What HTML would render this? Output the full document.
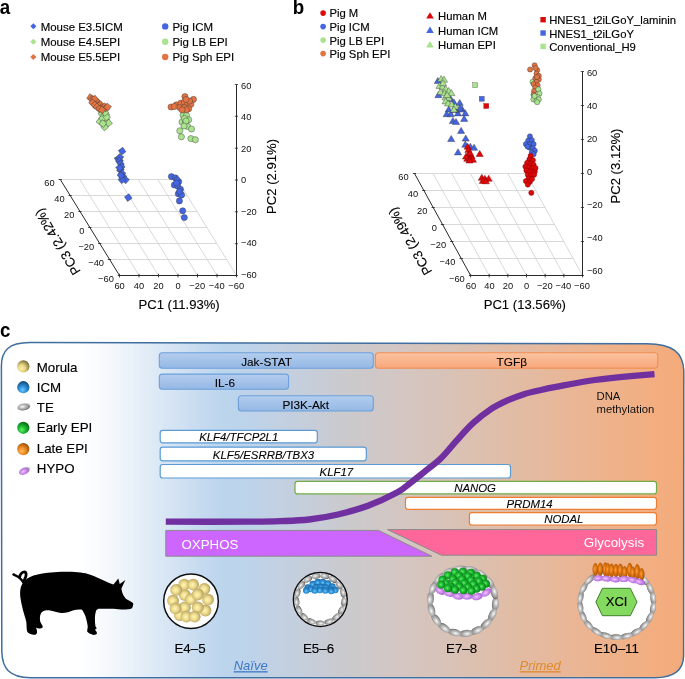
<!DOCTYPE html>
<html lang="en"><head><meta charset="utf-8"><title>Figure</title>
<style>
html,body{margin:0;padding:0;background:#fff;}
body{width:685px;height:679px;overflow:hidden;}
svg{display:block;font-family:"Liberation Sans", Arial, Helvetica, sans-serif;}
.tk{font-size:9.3px;fill:#111;}
.lg{font-size:11.45px;fill:#000;stroke:#000;stroke-width:0.15px;}
.lgb{font-size:11.3px;fill:#000;stroke:#000;stroke-width:0.15px;}
.ax{font-size:13.1px;fill:#000;stroke:#000;stroke-width:0.12px;}
.pl{font-size:19.5px;font-weight:bold;fill:#000;}
.cl{font-size:13.3px;fill:#000;stroke:#000;stroke-width:0.15px;}
.bx{font-size:11.8px;fill:#000;stroke:#000;stroke-width:0.1px;}
.dn{font-size:11.3px;fill:#111;}
.gi{font-size:11.4px;fill:#000;font-style:italic;stroke:#000;stroke-width:0.1px;}
</style></head><body>
<svg width="685" height="679" viewBox="0 0 685 679">
<defs>
<linearGradient id="bg" gradientUnits="userSpaceOnUse" x1="1.8" y1="0" x2="683.2" y2="0">
<stop offset="0" stop-color="#ffffff"/>
<stop offset="0.115" stop-color="#ffffff"/>
<stop offset="0.16" stop-color="#f4f8fc"/>
<stop offset="0.205" stop-color="#e4eef8"/>
<stop offset="0.25" stop-color="#d5e4f3"/>
<stop offset="0.3" stop-color="#c3d9ef"/>
<stop offset="0.325" stop-color="#bbd5ed"/>
<stop offset="0.36" stop-color="#bdd3ea"/>
<stop offset="0.4" stop-color="#c2d1e3"/>
<stop offset="0.44" stop-color="#c5cedc"/>
<stop offset="0.5" stop-color="#cacace"/>
<stop offset="0.585" stop-color="#d3c6c2"/>
<stop offset="0.66" stop-color="#d9c2b6"/>
<stop offset="0.75" stop-color="#e1bca5"/>
<stop offset="0.82" stop-color="#e8b799"/>
<stop offset="0.88" stop-color="#edb38d"/>
<stop offset="0.965" stop-color="#f3ad7f"/>
<stop offset="1" stop-color="#f4ab7b"/>
</linearGradient>
<linearGradient id="bluebox" x1="0" y1="0" x2="0" y2="1"><stop offset="0" stop-color="#b4cdee"/><stop offset="1" stop-color="#94b8e4"/></linearGradient>
<linearGradient id="orgbox" x1="0" y1="0" x2="0" y2="1"><stop offset="0" stop-color="#fbc3a0"/><stop offset="1" stop-color="#f7a77b"/></linearGradient>
<radialGradient id="sY" cx="0.45" cy="0.52" r="0.62"><stop offset="0" stop-color="#fff8b0"/><stop offset="0.4" stop-color="#eedd90"/><stop offset="0.8" stop-color="#c2ac66"/><stop offset="1" stop-color="#766634"/></radialGradient>
<radialGradient id="sB" cx="0.48" cy="0.6" r="0.66"><stop offset="0" stop-color="#70c4f8"/><stop offset="0.4" stop-color="#3198dc"/><stop offset="0.8" stop-color="#1f70b4"/><stop offset="1" stop-color="#0e4478"/></radialGradient>
<radialGradient id="sG" cx="0.42" cy="0.48" r="0.62"><stop offset="0" stop-color="#62f068"/><stop offset="0.4" stop-color="#1fbe34"/><stop offset="0.8" stop-color="#0e9020"/><stop offset="1" stop-color="#064c0e"/></radialGradient>
<radialGradient id="sO" cx="0.42" cy="0.45" r="0.62"><stop offset="0" stop-color="#ff9c3c"/><stop offset="0.4" stop-color="#e07812"/><stop offset="0.8" stop-color="#b85a06"/><stop offset="1" stop-color="#663002"/></radialGradient>
<radialGradient id="sP" cx="0.42" cy="0.5" r="0.66"><stop offset="0" stop-color="#f2c8ff"/><stop offset="0.4" stop-color="#d090f0"/><stop offset="0.8" stop-color="#ac68d0"/><stop offset="1" stop-color="#7a409c"/></radialGradient>
<radialGradient id="sT" cx="0.42" cy="0.42" r="0.62"><stop offset="0" stop-color="#fbfbfb"/><stop offset="0.4" stop-color="#c0c0c0"/><stop offset="0.8" stop-color="#8e8e8e"/><stop offset="1" stop-color="#4c4c4c"/></radialGradient>
<radialGradient id="lY" cx="0.36" cy="0.66" r="0.78"><stop offset="0" stop-color="#fff4a4"/><stop offset="0.4" stop-color="#e4d282"/><stop offset="0.8" stop-color="#8e7e46"/><stop offset="1" stop-color="#4e4422"/></radialGradient>
<radialGradient id="lB" cx="0.44" cy="0.72" r="0.78"><stop offset="0" stop-color="#6cc8ff"/><stop offset="0.4" stop-color="#2f8fd8"/><stop offset="0.8" stop-color="#19588f"/><stop offset="1" stop-color="#0c3050"/></radialGradient>
<radialGradient id="lG" cx="0.38" cy="0.66" r="0.78"><stop offset="0" stop-color="#66f066"/><stop offset="0.4" stop-color="#18b830"/><stop offset="0.8" stop-color="#0a741a"/><stop offset="1" stop-color="#043c0a"/></radialGradient>
<radialGradient id="lO" cx="0.38" cy="0.66" r="0.78"><stop offset="0" stop-color="#ffba60"/><stop offset="0.4" stop-color="#ee8a20"/><stop offset="0.8" stop-color="#a4560a"/><stop offset="1" stop-color="#5a2c02"/></radialGradient>
</defs>
<text class="pl" transform="translate(-0.2 13.7) scale(0.96 1)">a</text>
<rect x="31.2" y="24.2" width="4.30" height="4.30" fill="#4466e2" stroke="none" stroke-width="0" transform="rotate(45 33.4 26.4)"/>
<text x="40.7" y="30.5" class="lg" text-anchor="start">Mouse E3.5ICM</text>
<rect x="31.2" y="39.6" width="4.30" height="4.30" fill="#a9e38e" stroke="none" stroke-width="0" transform="rotate(45 33.4 41.7)"/>
<text x="40.7" y="45.8" class="lg" text-anchor="start">Mouse E4.5EPI</text>
<rect x="31.2" y="54.9" width="4.30" height="4.30" fill="#e27443" stroke="none" stroke-width="0" transform="rotate(45 33.4 57.0)"/>
<text x="40.7" y="61.1" class="lg" text-anchor="start">Mouse E5.5EPI</text>
<circle cx="165.2" cy="26.4" r="3.20" fill="#4466e2" stroke="none" stroke-width="0"/>
<text x="172.4" y="30.5" class="lg" text-anchor="start">Pig ICM</text>
<circle cx="165.2" cy="41.7" r="3.20" fill="#a9e38e" stroke="none" stroke-width="0"/>
<text x="172.4" y="45.8" class="lg" text-anchor="start">Pig LB EPI</text>
<circle cx="165.2" cy="57.0" r="3.20" fill="#e27443" stroke="none" stroke-width="0"/>
<text x="172.4" y="61.1" class="lg" text-anchor="start">Pig Sph EPI</text>
<line x1="79.8" y1="179.5" x2="139.0" y2="275.5" stroke="#cfcfcf" stroke-width="0.8"/>
<line x1="99.3" y1="179.5" x2="158.5" y2="275.5" stroke="#cfcfcf" stroke-width="0.8"/>
<line x1="118.8" y1="179.5" x2="178.0" y2="275.5" stroke="#cfcfcf" stroke-width="0.8"/>
<line x1="138.3" y1="179.5" x2="197.5" y2="275.5" stroke="#cfcfcf" stroke-width="0.8"/>
<line x1="157.8" y1="179.5" x2="217.0" y2="275.5" stroke="#cfcfcf" stroke-width="0.8"/>
<line x1="177.3" y1="179.5" x2="236.5" y2="275.5" stroke="#cfcfcf" stroke-width="0.8"/>
<line x1="60.3" y1="179.5" x2="177.3" y2="179.5" stroke="#cfcfcf" stroke-width="0.8"/>
<line x1="70.2" y1="195.5" x2="187.2" y2="195.5" stroke="#cfcfcf" stroke-width="0.8"/>
<line x1="80.0" y1="211.5" x2="197.0" y2="211.5" stroke="#cfcfcf" stroke-width="0.8"/>
<line x1="89.9" y1="227.5" x2="206.9" y2="227.5" stroke="#cfcfcf" stroke-width="0.8"/>
<line x1="99.8" y1="243.5" x2="216.8" y2="243.5" stroke="#cfcfcf" stroke-width="0.8"/>
<line x1="109.6" y1="259.5" x2="226.6" y2="259.5" stroke="#cfcfcf" stroke-width="0.8"/>
<line x1="60.3" y1="179.5" x2="119.5" y2="275.5" stroke="#2a2a2a" stroke-width="1"/>
<line x1="119.5" y1="275.5" x2="236.5" y2="275.5" stroke="#2a2a2a" stroke-width="1"/>
<line x1="236.5" y1="84.5" x2="236.5" y2="275.5" stroke="#2a2a2a" stroke-width="1"/>
<line x1="234.8" y1="84.5" x2="238.0" y2="84.5" stroke="#2a2a2a" stroke-width="0.8"/>
<text x="241.0" y="88.6" class="tk" text-anchor="start">60</text>
<line x1="119.5" y1="273.8" x2="119.5" y2="277.4" stroke="#2a2a2a" stroke-width="0.9"/>
<text x="119.6" y="288.5" class="tk" text-anchor="middle">60</text>
<line x1="58.6" y1="179.5" x2="61.8" y2="179.5" stroke="#2a2a2a" stroke-width="0.9"/>
<text x="54.7" y="186.4" class="tk" text-anchor="end">60</text>
<line x1="234.8" y1="116.3" x2="238.0" y2="116.3" stroke="#2a2a2a" stroke-width="0.8"/>
<text x="241.0" y="120.1" class="tk" text-anchor="start">40</text>
<line x1="139.0" y1="273.8" x2="139.0" y2="277.4" stroke="#2a2a2a" stroke-width="0.9"/>
<text x="139.0" y="288.5" class="tk" text-anchor="middle">40</text>
<line x1="68.5" y1="195.5" x2="71.7" y2="195.5" stroke="#2a2a2a" stroke-width="0.9"/>
<text x="64.6" y="202.4" class="tk" text-anchor="end">40</text>
<line x1="234.8" y1="148.2" x2="238.0" y2="148.2" stroke="#2a2a2a" stroke-width="0.8"/>
<text x="241.0" y="151.7" class="tk" text-anchor="start">20</text>
<line x1="158.5" y1="273.8" x2="158.5" y2="277.4" stroke="#2a2a2a" stroke-width="0.9"/>
<text x="158.5" y="288.5" class="tk" text-anchor="middle">20</text>
<line x1="78.3" y1="211.5" x2="81.5" y2="211.5" stroke="#2a2a2a" stroke-width="0.9"/>
<text x="74.4" y="218.4" class="tk" text-anchor="end">20</text>
<line x1="234.8" y1="180.0" x2="238.0" y2="180.0" stroke="#2a2a2a" stroke-width="0.8"/>
<text x="241.0" y="183.2" class="tk" text-anchor="start">0</text>
<line x1="178.0" y1="273.8" x2="178.0" y2="277.4" stroke="#2a2a2a" stroke-width="0.9"/>
<text x="178.0" y="288.5" class="tk" text-anchor="middle">0</text>
<line x1="88.2" y1="227.5" x2="91.4" y2="227.5" stroke="#2a2a2a" stroke-width="0.9"/>
<text x="84.3" y="234.4" class="tk" text-anchor="end">0</text>
<line x1="234.8" y1="211.8" x2="238.0" y2="211.8" stroke="#2a2a2a" stroke-width="0.8"/>
<text x="241.0" y="214.8" class="tk" text-anchor="start">−20</text>
<line x1="197.5" y1="273.8" x2="197.5" y2="277.4" stroke="#2a2a2a" stroke-width="0.9"/>
<text x="197.2" y="288.5" class="tk" text-anchor="middle">−20</text>
<line x1="98.1" y1="243.5" x2="101.3" y2="243.5" stroke="#2a2a2a" stroke-width="0.9"/>
<text x="94.2" y="250.4" class="tk" text-anchor="end">−20</text>
<line x1="234.8" y1="243.7" x2="238.0" y2="243.7" stroke="#2a2a2a" stroke-width="0.8"/>
<text x="241.0" y="246.4" class="tk" text-anchor="start">−40</text>
<line x1="217.0" y1="273.8" x2="217.0" y2="277.4" stroke="#2a2a2a" stroke-width="0.9"/>
<text x="216.7" y="288.5" class="tk" text-anchor="middle">−40</text>
<line x1="107.9" y1="259.5" x2="111.1" y2="259.5" stroke="#2a2a2a" stroke-width="0.9"/>
<text x="104.0" y="266.4" class="tk" text-anchor="end">−40</text>
<line x1="234.8" y1="275.5" x2="238.0" y2="275.5" stroke="#2a2a2a" stroke-width="0.8"/>
<text x="241.0" y="277.9" class="tk" text-anchor="start">−60</text>
<line x1="236.5" y1="273.8" x2="236.5" y2="277.4" stroke="#2a2a2a" stroke-width="0.9"/>
<text x="236.2" y="288.5" class="tk" text-anchor="middle">−60</text>
<line x1="117.8" y1="275.5" x2="121.0" y2="275.5" stroke="#2a2a2a" stroke-width="0.9"/>
<text x="113.9" y="282.4" class="tk" text-anchor="end">−60</text>
<text x="179.1" y="308.5" class="ax" text-anchor="middle">PC1 (11.93%)</text>
<text class="ax" text-anchor="middle" transform="translate(271.7 176.4) rotate(-90)" y="4.6">PC2 (2.91%)</text>
<text class="ax" text-anchor="middle" transform="translate(57.5 242.0) rotate(-121.5)" y="4.6">PC3 (2.42%)</text>
<rect x="99.2" y="110.8" width="5.50" height="5.50" fill="#a9e38e" stroke="#333" stroke-width="0.4" transform="rotate(40 102.0 113.5)"/>
<rect x="103.2" y="111.8" width="5.50" height="5.50" fill="#a9e38e" stroke="#333" stroke-width="0.4" transform="rotate(51 106.0 114.5)"/>
<rect x="100.8" y="113.2" width="5.50" height="5.50" fill="#a9e38e" stroke="#333" stroke-width="0.4" transform="rotate(50 103.5 116.0)"/>
<rect x="97.2" y="118.8" width="5.50" height="5.50" fill="#a9e38e" stroke="#333" stroke-width="0.4" transform="rotate(37 100.0 121.5)"/>
<rect x="102.8" y="116.2" width="5.50" height="5.50" fill="#a9e38e" stroke="#333" stroke-width="0.4" transform="rotate(44 105.5 119.0)"/>
<rect x="105.8" y="120.2" width="5.50" height="5.50" fill="#a9e38e" stroke="#333" stroke-width="0.4" transform="rotate(52 108.5 123.0)"/>
<rect x="101.8" y="124.2" width="5.50" height="5.50" fill="#a9e38e" stroke="#333" stroke-width="0.4" transform="rotate(48 104.5 127.0)"/>
<rect x="99.8" y="115.8" width="5.50" height="5.50" fill="#a9e38e" stroke="#333" stroke-width="0.4" transform="rotate(53 102.5 118.5)"/>
<rect x="103.8" y="114.2" width="5.50" height="5.50" fill="#a9e38e" stroke="#333" stroke-width="0.4" transform="rotate(51 106.5 117.0)"/>
<rect x="100.2" y="120.8" width="5.50" height="5.50" fill="#a9e38e" stroke="#333" stroke-width="0.4" transform="rotate(35 103.0 123.5)"/>
<rect x="102.2" y="109.8" width="5.50" height="5.50" fill="#a9e38e" stroke="#333" stroke-width="0.4" transform="rotate(52 105.0 112.5)"/>
<rect x="87.8" y="94.8" width="5.50" height="5.50" fill="#e27443" stroke="#333" stroke-width="0.4" transform="rotate(33 90.5 97.5)"/>
<rect x="89.2" y="96.8" width="5.50" height="5.50" fill="#e27443" stroke="#333" stroke-width="0.4" transform="rotate(48 92.0 99.5)"/>
<rect x="90.8" y="98.2" width="5.50" height="5.50" fill="#e27443" stroke="#333" stroke-width="0.4" transform="rotate(41 93.5 101.0)"/>
<rect x="92.2" y="99.8" width="5.50" height="5.50" fill="#e27443" stroke="#333" stroke-width="0.4" transform="rotate(50 95.0 102.5)"/>
<rect x="93.8" y="101.8" width="5.50" height="5.50" fill="#e27443" stroke="#333" stroke-width="0.4" transform="rotate(40 96.5 104.5)"/>
<rect x="94.8" y="99.8" width="5.50" height="5.50" fill="#e27443" stroke="#333" stroke-width="0.4" transform="rotate(39 97.5 102.5)"/>
<rect x="95.8" y="102.8" width="5.50" height="5.50" fill="#e27443" stroke="#333" stroke-width="0.4" transform="rotate(55 98.5 105.5)"/>
<rect x="96.8" y="103.8" width="5.50" height="5.50" fill="#e27443" stroke="#333" stroke-width="0.4" transform="rotate(48 99.5 106.5)"/>
<rect x="97.8" y="101.8" width="5.50" height="5.50" fill="#e27443" stroke="#333" stroke-width="0.4" transform="rotate(50 100.5 104.5)"/>
<rect x="98.8" y="104.8" width="5.50" height="5.50" fill="#e27443" stroke="#333" stroke-width="0.4" transform="rotate(50 101.5 107.5)"/>
<rect x="100.2" y="105.8" width="5.50" height="5.50" fill="#e27443" stroke="#333" stroke-width="0.4" transform="rotate(48 103.0 108.5)"/>
<rect x="101.8" y="103.8" width="5.50" height="5.50" fill="#e27443" stroke="#333" stroke-width="0.4" transform="rotate(45 104.5 106.5)"/>
<rect x="103.2" y="105.2" width="5.50" height="5.50" fill="#e27443" stroke="#333" stroke-width="0.4" transform="rotate(53 106.0 108.0)"/>
<rect x="104.8" y="104.2" width="5.50" height="5.50" fill="#e27443" stroke="#333" stroke-width="0.4" transform="rotate(37 107.5 107.0)"/>
<rect x="93.2" y="97.8" width="5.50" height="5.50" fill="#e27443" stroke="#333" stroke-width="0.4" transform="rotate(40 96.0 100.5)"/>
<rect x="91.8" y="96.2" width="5.50" height="5.50" fill="#e27443" stroke="#333" stroke-width="0.4" transform="rotate(53 94.5 99.0)"/>
<rect x="89.8" y="99.8" width="5.50" height="5.50" fill="#e27443" stroke="#333" stroke-width="0.4" transform="rotate(37 92.5 102.5)"/>
<rect x="91.8" y="102.2" width="5.50" height="5.50" fill="#e27443" stroke="#333" stroke-width="0.4" transform="rotate(49 94.5 105.0)"/>
<rect x="94.2" y="104.2" width="5.50" height="5.50" fill="#e27443" stroke="#333" stroke-width="0.4" transform="rotate(45 97.0 107.0)"/>
<rect x="96.8" y="106.0" width="5.50" height="5.50" fill="#e27443" stroke="#333" stroke-width="0.4" transform="rotate(56 99.5 108.8)"/>
<rect x="99.2" y="107.2" width="5.50" height="5.50" fill="#e27443" stroke="#333" stroke-width="0.4" transform="rotate(33 102.0 110.0)"/>
<rect x="119.3" y="148.4" width="5.50" height="5.50" fill="#4466e2" stroke="#333" stroke-width="0.4" transform="rotate(54 122.1 151.2)"/>
<rect x="115.2" y="156.2" width="5.50" height="5.50" fill="#4466e2" stroke="#333" stroke-width="0.4" transform="rotate(57 118.0 159.0)"/>
<rect x="117.2" y="154.8" width="5.50" height="5.50" fill="#4466e2" stroke="#333" stroke-width="0.4" transform="rotate(35 120.0 157.5)"/>
<rect x="116.8" y="158.2" width="5.50" height="5.50" fill="#4466e2" stroke="#333" stroke-width="0.4" transform="rotate(38 119.5 161.0)"/>
<rect x="117.8" y="160.8" width="5.50" height="5.50" fill="#4466e2" stroke="#333" stroke-width="0.4" transform="rotate(57 120.5 163.5)"/>
<rect x="118.5" y="163.8" width="5.50" height="5.50" fill="#4466e2" stroke="#333" stroke-width="0.4" transform="rotate(51 121.2 166.6)"/>
<rect x="117.7" y="167.2" width="5.50" height="5.50" fill="#4466e2" stroke="#333" stroke-width="0.4" transform="rotate(34 120.4 170.0)"/>
<rect x="119.3" y="170.8" width="5.50" height="5.50" fill="#4466e2" stroke="#333" stroke-width="0.4" transform="rotate(42 122.1 173.6)"/>
<rect x="116.8" y="165.2" width="5.50" height="5.50" fill="#4466e2" stroke="#333" stroke-width="0.4" transform="rotate(57 119.5 168.0)"/>
<rect x="120.2" y="174.2" width="5.50" height="5.50" fill="#4466e2" stroke="#333" stroke-width="0.4" transform="rotate(33 123.0 177.0)"/>
<rect x="122.8" y="177.1" width="5.50" height="5.50" fill="#4466e2" stroke="#333" stroke-width="0.4" transform="rotate(41 125.5 179.8)"/>
<rect x="119.2" y="177.1" width="5.50" height="5.50" fill="#4466e2" stroke="#333" stroke-width="0.4" transform="rotate(48 122.0 179.8)"/>
<rect x="118.2" y="172.8" width="5.50" height="5.50" fill="#4466e2" stroke="#333" stroke-width="0.4" transform="rotate(52 121.0 175.5)"/>
<rect x="125.6" y="194.8" width="5.50" height="5.50" fill="#4466e2" stroke="#333" stroke-width="0.4" transform="rotate(56 128.3 197.5)"/>
<circle cx="183.1" cy="115.4" r="3.10" fill="#a9e38e" stroke="#333" stroke-width="0.4"/>
<circle cx="186.5" cy="115.4" r="3.10" fill="#a9e38e" stroke="#333" stroke-width="0.4"/>
<circle cx="188.7" cy="119.8" r="3.10" fill="#a9e38e" stroke="#333" stroke-width="0.4"/>
<circle cx="182.0" cy="122.0" r="3.10" fill="#a9e38e" stroke="#333" stroke-width="0.4"/>
<circle cx="185.4" cy="123.0" r="3.10" fill="#a9e38e" stroke="#333" stroke-width="0.4"/>
<circle cx="187.6" cy="126.4" r="3.10" fill="#a9e38e" stroke="#333" stroke-width="0.4"/>
<circle cx="191.5" cy="129.0" r="3.10" fill="#a9e38e" stroke="#333" stroke-width="0.4"/>
<circle cx="179.8" cy="130.8" r="3.10" fill="#a9e38e" stroke="#333" stroke-width="0.4"/>
<circle cx="181.4" cy="136.8" r="3.10" fill="#a9e38e" stroke="#333" stroke-width="0.4"/>
<circle cx="190.9" cy="138.6" r="3.10" fill="#a9e38e" stroke="#333" stroke-width="0.4"/>
<circle cx="195.3" cy="139.7" r="3.10" fill="#a9e38e" stroke="#333" stroke-width="0.4"/>
<circle cx="184.5" cy="118.5" r="3.10" fill="#a9e38e" stroke="#333" stroke-width="0.4"/>
<circle cx="186.0" cy="121.0" r="3.10" fill="#a9e38e" stroke="#333" stroke-width="0.4"/>
<circle cx="184.0" cy="126.0" r="3.10" fill="#a9e38e" stroke="#333" stroke-width="0.4"/>
<circle cx="184.9" cy="96.6" r="3.10" fill="#e27443" stroke="#333" stroke-width="0.4"/>
<circle cx="193.5" cy="99.4" r="3.10" fill="#e27443" stroke="#333" stroke-width="0.4"/>
<circle cx="171.0" cy="107.0" r="3.10" fill="#e27443" stroke="#333" stroke-width="0.4"/>
<circle cx="176.5" cy="104.8" r="3.10" fill="#e27443" stroke="#333" stroke-width="0.4"/>
<circle cx="180.9" cy="103.2" r="3.10" fill="#e27443" stroke="#333" stroke-width="0.4"/>
<circle cx="184.3" cy="102.1" r="3.10" fill="#e27443" stroke="#333" stroke-width="0.4"/>
<circle cx="187.6" cy="103.2" r="3.10" fill="#e27443" stroke="#333" stroke-width="0.4"/>
<circle cx="190.9" cy="104.3" r="3.10" fill="#e27443" stroke="#333" stroke-width="0.4"/>
<circle cx="179.8" cy="107.6" r="3.10" fill="#e27443" stroke="#333" stroke-width="0.4"/>
<circle cx="184.3" cy="107.6" r="3.10" fill="#e27443" stroke="#333" stroke-width="0.4"/>
<circle cx="188.7" cy="108.7" r="3.10" fill="#e27443" stroke="#333" stroke-width="0.4"/>
<circle cx="174.3" cy="106.5" r="3.10" fill="#e27443" stroke="#333" stroke-width="0.4"/>
<circle cx="186.5" cy="109.8" r="3.10" fill="#e27443" stroke="#333" stroke-width="0.4"/>
<circle cx="182.0" cy="109.8" r="3.10" fill="#e27443" stroke="#333" stroke-width="0.4"/>
<circle cx="189.5" cy="101.0" r="3.10" fill="#e27443" stroke="#333" stroke-width="0.4"/>
<circle cx="186.0" cy="99.5" r="3.10" fill="#e27443" stroke="#333" stroke-width="0.4"/>
<circle cx="171.4" cy="176.6" r="3.10" fill="#4466e2" stroke="#333" stroke-width="0.4"/>
<circle cx="175.4" cy="177.9" r="3.10" fill="#4466e2" stroke="#333" stroke-width="0.4"/>
<circle cx="178.7" cy="181.7" r="3.10" fill="#4466e2" stroke="#333" stroke-width="0.4"/>
<circle cx="174.3" cy="185.0" r="3.10" fill="#4466e2" stroke="#333" stroke-width="0.4"/>
<circle cx="177.6" cy="186.0" r="3.10" fill="#4466e2" stroke="#333" stroke-width="0.4"/>
<circle cx="180.5" cy="189.4" r="3.10" fill="#4466e2" stroke="#333" stroke-width="0.4"/>
<circle cx="178.3" cy="193.8" r="3.10" fill="#4466e2" stroke="#333" stroke-width="0.4"/>
<circle cx="181.6" cy="194.9" r="3.10" fill="#4466e2" stroke="#333" stroke-width="0.4"/>
<circle cx="179.4" cy="200.9" r="3.10" fill="#4466e2" stroke="#333" stroke-width="0.4"/>
<circle cx="182.7" cy="210.8" r="3.10" fill="#4466e2" stroke="#333" stroke-width="0.4"/>
<circle cx="184.3" cy="217.5" r="3.10" fill="#4466e2" stroke="#333" stroke-width="0.4"/>
<circle cx="177.0" cy="180.0" r="3.10" fill="#4466e2" stroke="#333" stroke-width="0.4"/>
<circle cx="179.5" cy="191.5" r="3.10" fill="#4466e2" stroke="#333" stroke-width="0.4"/>
<circle cx="176.5" cy="183.0" r="3.10" fill="#4466e2" stroke="#333" stroke-width="0.4"/>
<text class="pl" transform="translate(292.7 13.5) scale(0.96 1)">b</text>
<circle cx="323.1" cy="13.1" r="2.80" fill="#dd0808" stroke="none" stroke-width="0"/>
<text x="329.4" y="17.4" class="lgb" text-anchor="start">Pig M</text>
<circle cx="323.1" cy="26.6" r="2.80" fill="#4466e2" stroke="none" stroke-width="0"/>
<text x="329.4" y="31.0" class="lgb" text-anchor="start">Pig ICM</text>
<circle cx="323.1" cy="40.1" r="2.80" fill="#a9e38e" stroke="none" stroke-width="0"/>
<text x="329.4" y="44.5" class="lgb" text-anchor="start">Pig LB EPI</text>
<circle cx="323.1" cy="53.6" r="2.80" fill="#e27443" stroke="none" stroke-width="0"/>
<text x="329.4" y="58.0" class="lgb" text-anchor="start">Pig Sph EPI</text>
<path d="M430.0 12.2L433.8 18.6L426.2 18.6Z" fill="#dd0808" stroke="none" stroke-width="0"/>
<text x="438.0" y="20.2" class="lgb" text-anchor="start">Human M</text>
<path d="M430.0 26.6L433.8 33.1L426.2 33.1Z" fill="#4466e2" stroke="none" stroke-width="0"/>
<text x="438.0" y="34.6" class="lgb" text-anchor="start">Human ICM</text>
<path d="M430.0 41.1L433.8 47.5L426.2 47.5Z" fill="#a9e38e" stroke="none" stroke-width="0"/>
<text x="438.0" y="49.0" class="lgb" text-anchor="start">Human EPI</text>
<rect x="540.4" y="17.0" width="5.4" height="5.4" fill="#dd0808" stroke="none" stroke-width="0"/>
<text x="549.2" y="24.2" class="lgb" text-anchor="start">HNES1_t2iLGoY_laminin</text>
<rect x="540.4" y="30.3" width="5.4" height="5.4" fill="#4466e2" stroke="none" stroke-width="0"/>
<text x="549.2" y="37.5" class="lgb" text-anchor="start">HNES1_t2iLGoY</text>
<rect x="540.4" y="43.7" width="5.4" height="5.4" fill="#a9e38e" stroke="none" stroke-width="0"/>
<text x="549.2" y="51.0" class="lgb" text-anchor="start">Conventional_H9</text>
<line x1="433.1" y1="173.5" x2="489.2" y2="275.5" stroke="#cfcfcf" stroke-width="0.8"/>
<line x1="451.8" y1="173.5" x2="507.9" y2="275.5" stroke="#cfcfcf" stroke-width="0.8"/>
<line x1="470.4" y1="173.5" x2="526.5" y2="275.5" stroke="#cfcfcf" stroke-width="0.8"/>
<line x1="489.1" y1="173.5" x2="545.2" y2="275.5" stroke="#cfcfcf" stroke-width="0.8"/>
<line x1="507.8" y1="173.5" x2="563.9" y2="275.5" stroke="#cfcfcf" stroke-width="0.8"/>
<line x1="526.4" y1="173.5" x2="582.5" y2="275.5" stroke="#cfcfcf" stroke-width="0.8"/>
<line x1="414.5" y1="173.5" x2="526.4" y2="173.5" stroke="#cfcfcf" stroke-width="0.8"/>
<line x1="423.9" y1="190.5" x2="535.8" y2="190.5" stroke="#cfcfcf" stroke-width="0.8"/>
<line x1="433.2" y1="207.5" x2="545.1" y2="207.5" stroke="#cfcfcf" stroke-width="0.8"/>
<line x1="442.6" y1="224.5" x2="554.5" y2="224.5" stroke="#cfcfcf" stroke-width="0.8"/>
<line x1="451.9" y1="241.5" x2="563.8" y2="241.5" stroke="#cfcfcf" stroke-width="0.8"/>
<line x1="461.2" y1="258.5" x2="573.1" y2="258.5" stroke="#cfcfcf" stroke-width="0.8"/>
<line x1="414.5" y1="173.5" x2="470.6" y2="275.5" stroke="#2a2a2a" stroke-width="1"/>
<line x1="470.6" y1="275.5" x2="582.5" y2="275.5" stroke="#2a2a2a" stroke-width="1"/>
<line x1="582.5" y1="71.5" x2="582.5" y2="275.5" stroke="#2a2a2a" stroke-width="1"/>
<line x1="580.8" y1="71.5" x2="584.0" y2="71.5" stroke="#2a2a2a" stroke-width="0.8"/>
<text x="586.9" y="75.8" class="tk" text-anchor="start">60</text>
<line x1="470.6" y1="273.8" x2="470.6" y2="277.4" stroke="#2a2a2a" stroke-width="0.9"/>
<text x="470.9" y="288.8" class="tk" text-anchor="middle">60</text>
<line x1="412.8" y1="173.5" x2="416.0" y2="173.5" stroke="#2a2a2a" stroke-width="0.9"/>
<text x="408.7" y="180.0" class="tk" text-anchor="end">60</text>
<line x1="580.8" y1="105.5" x2="584.0" y2="105.5" stroke="#2a2a2a" stroke-width="0.8"/>
<text x="586.9" y="108.9" class="tk" text-anchor="start">40</text>
<line x1="489.2" y1="273.8" x2="489.2" y2="277.4" stroke="#2a2a2a" stroke-width="0.9"/>
<text x="489.4" y="288.8" class="tk" text-anchor="middle">40</text>
<line x1="422.2" y1="190.5" x2="425.4" y2="190.5" stroke="#2a2a2a" stroke-width="0.9"/>
<text x="418.1" y="197.0" class="tk" text-anchor="end">40</text>
<line x1="580.8" y1="139.5" x2="584.0" y2="139.5" stroke="#2a2a2a" stroke-width="0.8"/>
<text x="586.9" y="142.0" class="tk" text-anchor="start">20</text>
<line x1="507.9" y1="273.8" x2="507.9" y2="277.4" stroke="#2a2a2a" stroke-width="0.9"/>
<text x="508.0" y="288.8" class="tk" text-anchor="middle">20</text>
<line x1="431.5" y1="207.5" x2="434.7" y2="207.5" stroke="#2a2a2a" stroke-width="0.9"/>
<text x="427.4" y="214.0" class="tk" text-anchor="end">20</text>
<line x1="580.8" y1="173.5" x2="584.0" y2="173.5" stroke="#2a2a2a" stroke-width="0.8"/>
<text x="586.9" y="175.1" class="tk" text-anchor="start">0</text>
<line x1="526.5" y1="273.8" x2="526.5" y2="277.4" stroke="#2a2a2a" stroke-width="0.9"/>
<text x="526.6" y="288.8" class="tk" text-anchor="middle">0</text>
<line x1="440.9" y1="224.5" x2="444.1" y2="224.5" stroke="#2a2a2a" stroke-width="0.9"/>
<text x="436.8" y="231.0" class="tk" text-anchor="end">0</text>
<line x1="580.8" y1="207.5" x2="584.0" y2="207.5" stroke="#2a2a2a" stroke-width="0.8"/>
<text x="586.9" y="208.2" class="tk" text-anchor="start">−20</text>
<line x1="545.2" y1="273.8" x2="545.2" y2="277.4" stroke="#2a2a2a" stroke-width="0.9"/>
<text x="544.8" y="288.8" class="tk" text-anchor="middle">−20</text>
<line x1="450.2" y1="241.5" x2="453.4" y2="241.5" stroke="#2a2a2a" stroke-width="0.9"/>
<text x="446.1" y="248.0" class="tk" text-anchor="end">−20</text>
<line x1="580.8" y1="241.5" x2="584.0" y2="241.5" stroke="#2a2a2a" stroke-width="0.8"/>
<text x="586.9" y="241.3" class="tk" text-anchor="start">−40</text>
<line x1="563.9" y1="273.8" x2="563.9" y2="277.4" stroke="#2a2a2a" stroke-width="0.9"/>
<text x="563.4" y="288.8" class="tk" text-anchor="middle">−40</text>
<line x1="459.6" y1="258.5" x2="462.8" y2="258.5" stroke="#2a2a2a" stroke-width="0.9"/>
<text x="455.4" y="265.0" class="tk" text-anchor="end">−40</text>
<line x1="580.8" y1="275.5" x2="584.0" y2="275.5" stroke="#2a2a2a" stroke-width="0.8"/>
<text x="586.9" y="274.4" class="tk" text-anchor="start">−60</text>
<line x1="582.5" y1="273.8" x2="582.5" y2="277.4" stroke="#2a2a2a" stroke-width="0.9"/>
<text x="582.0" y="288.8" class="tk" text-anchor="middle">−60</text>
<line x1="468.9" y1="275.5" x2="472.1" y2="275.5" stroke="#2a2a2a" stroke-width="0.9"/>
<text x="464.8" y="282.0" class="tk" text-anchor="end">−60</text>
<text x="524.8" y="308.5" class="ax" text-anchor="middle">PC1 (13.56%)</text>
<text class="ax" text-anchor="middle" transform="translate(615.6 166.0) rotate(-90)" y="4.6">PC2 (3.12%)</text>
<text class="ax" text-anchor="middle" transform="translate(410.1 241.4) rotate(-119.5)" y="4.6">PC3 (2.49%)</text>
<path d="M437.8 77.5L441.4 83.6L434.2 83.6Z" fill="#4466e2" stroke="#333" stroke-width="0.4"/>
<path d="M438.4 91.6L442.0 97.7L434.8 97.7Z" fill="#4466e2" stroke="#333" stroke-width="0.4"/>
<path d="M450.8 95.7L454.4 101.8L447.2 101.8Z" fill="#4466e2" stroke="#333" stroke-width="0.4"/>
<path d="M453.9 98.8L457.5 104.9L450.3 104.9Z" fill="#4466e2" stroke="#333" stroke-width="0.4"/>
<path d="M459.7 99.4L463.3 105.5L456.1 105.5Z" fill="#4466e2" stroke="#333" stroke-width="0.4"/>
<path d="M448.7 106.0L452.3 112.1L445.1 112.1Z" fill="#4466e2" stroke="#333" stroke-width="0.4"/>
<path d="M446.7 110.6L450.3 116.7L443.1 116.7Z" fill="#4466e2" stroke="#333" stroke-width="0.4"/>
<path d="M450.8 110.6L454.4 116.7L447.2 116.7Z" fill="#4466e2" stroke="#333" stroke-width="0.4"/>
<path d="M458.0 109.8L461.6 115.9L454.4 115.9Z" fill="#4466e2" stroke="#333" stroke-width="0.4"/>
<path d="M462.2 106.0L465.8 112.1L458.6 112.1Z" fill="#4466e2" stroke="#333" stroke-width="0.4"/>
<path d="M465.3 109.8L468.9 115.9L461.7 115.9Z" fill="#4466e2" stroke="#333" stroke-width="0.4"/>
<path d="M464.2 115.3L467.8 121.4L460.6 121.4Z" fill="#4466e2" stroke="#333" stroke-width="0.4"/>
<path d="M452.9 117.4L456.5 123.5L449.3 123.5Z" fill="#4466e2" stroke="#333" stroke-width="0.4"/>
<path d="M456.0 118.4L459.6 124.5L452.4 124.5Z" fill="#4466e2" stroke="#333" stroke-width="0.4"/>
<path d="M461.1 127.3L464.7 133.4L457.5 133.4Z" fill="#4466e2" stroke="#333" stroke-width="0.4"/>
<path d="M451.2 135.4L454.8 141.5L447.6 141.5Z" fill="#4466e2" stroke="#333" stroke-width="0.4"/>
<path d="M465.7 135.0L469.3 141.1L462.1 141.1Z" fill="#4466e2" stroke="#333" stroke-width="0.4"/>
<path d="M458.0 148.8L461.6 154.9L454.4 154.9Z" fill="#4466e2" stroke="#333" stroke-width="0.4"/>
<path d="M465.3 141.1L468.9 147.2L461.7 147.2Z" fill="#4466e2" stroke="#333" stroke-width="0.4"/>
<path d="M470.4 143.2L474.0 149.3L466.8 149.3Z" fill="#4466e2" stroke="#333" stroke-width="0.4"/>
<path d="M474.1 144.2L477.7 150.3L470.5 150.3Z" fill="#4466e2" stroke="#333" stroke-width="0.4"/>
<path d="M455.0 106.5L458.6 112.6L451.4 112.6Z" fill="#4466e2" stroke="#333" stroke-width="0.4"/>
<path d="M460.0 104.5L463.6 110.6L456.4 110.6Z" fill="#4466e2" stroke="#333" stroke-width="0.4"/>
<path d="M441.1 75.5L444.7 81.6L437.5 81.6Z" fill="#a9e38e" stroke="#333" stroke-width="0.4"/>
<path d="M444.0 76.1L447.6 82.2L440.4 82.2Z" fill="#a9e38e" stroke="#333" stroke-width="0.4"/>
<path d="M439.5 82.3L443.1 88.4L435.9 88.4Z" fill="#a9e38e" stroke="#333" stroke-width="0.4"/>
<path d="M442.5 83.3L446.1 89.4L438.9 89.4Z" fill="#a9e38e" stroke="#333" stroke-width="0.4"/>
<path d="M445.6 85.4L449.2 91.5L442.0 91.5Z" fill="#a9e38e" stroke="#333" stroke-width="0.4"/>
<path d="M440.5 88.5L444.1 94.6L436.9 94.6Z" fill="#a9e38e" stroke="#333" stroke-width="0.4"/>
<path d="M444.6 89.5L448.2 95.6L441.0 95.6Z" fill="#a9e38e" stroke="#333" stroke-width="0.4"/>
<path d="M448.7 87.5L452.3 93.6L445.1 93.6Z" fill="#a9e38e" stroke="#333" stroke-width="0.4"/>
<path d="M451.4 89.5L455.0 95.6L447.8 95.6Z" fill="#a9e38e" stroke="#333" stroke-width="0.4"/>
<path d="M445.6 93.7L449.2 99.8L442.0 99.8Z" fill="#a9e38e" stroke="#333" stroke-width="0.4"/>
<path d="M448.7 94.7L452.3 100.8L445.1 100.8Z" fill="#a9e38e" stroke="#333" stroke-width="0.4"/>
<path d="M445.6 97.8L449.2 103.9L442.0 103.9Z" fill="#a9e38e" stroke="#333" stroke-width="0.4"/>
<path d="M448.1 99.9L451.7 106.0L444.5 106.0Z" fill="#a9e38e" stroke="#333" stroke-width="0.4"/>
<path d="M451.8 100.9L455.4 107.0L448.2 107.0Z" fill="#a9e38e" stroke="#333" stroke-width="0.4"/>
<path d="M455.3 103.0L458.9 109.1L451.7 109.1Z" fill="#a9e38e" stroke="#333" stroke-width="0.4"/>
<path d="M453.9 106.0L457.5 112.1L450.3 112.1Z" fill="#a9e38e" stroke="#333" stroke-width="0.4"/>
<path d="M443.0 79.5L446.6 85.6L439.4 85.6Z" fill="#a9e38e" stroke="#333" stroke-width="0.4"/>
<path d="M447.0 91.5L450.6 97.6L443.4 97.6Z" fill="#a9e38e" stroke="#333" stroke-width="0.4"/>
<path d="M467.7 143.2L471.3 149.3L464.1 149.3Z" fill="#dd0808" stroke="#700" stroke-width="0.4"/>
<path d="M468.4 146.3L472.0 152.4L464.8 152.4Z" fill="#dd0808" stroke="#700" stroke-width="0.4"/>
<path d="M479.7 150.4L483.3 156.5L476.1 156.5Z" fill="#dd0808" stroke="#700" stroke-width="0.4"/>
<path d="M468.4 151.5L472.0 157.6L464.8 157.6Z" fill="#dd0808" stroke="#700" stroke-width="0.4"/>
<path d="M471.5 152.5L475.1 158.6L467.9 158.6Z" fill="#dd0808" stroke="#700" stroke-width="0.4"/>
<path d="M467.3 155.2L470.9 161.3L463.7 161.3Z" fill="#dd0808" stroke="#700" stroke-width="0.4"/>
<path d="M470.4 155.6L474.0 161.7L466.8 161.7Z" fill="#dd0808" stroke="#700" stroke-width="0.4"/>
<path d="M472.9 156.2L476.5 162.3L469.3 162.3Z" fill="#dd0808" stroke="#700" stroke-width="0.4"/>
<path d="M469.5 157.0L473.1 163.1L465.9 163.1Z" fill="#dd0808" stroke="#700" stroke-width="0.4"/>
<path d="M466.0 153.0L469.6 159.1L462.4 159.1Z" fill="#dd0808" stroke="#700" stroke-width="0.4"/>
<path d="M470.0 149.5L473.6 155.6L466.4 155.6Z" fill="#dd0808" stroke="#700" stroke-width="0.4"/>
<path d="M481.8 174.2L485.4 180.3L478.2 180.3Z" fill="#dd0808" stroke="#700" stroke-width="0.4"/>
<path d="M484.9 175.2L488.5 181.3L481.3 181.3Z" fill="#dd0808" stroke="#700" stroke-width="0.4"/>
<path d="M488.6 175.2L492.2 181.3L485.0 181.3Z" fill="#dd0808" stroke="#700" stroke-width="0.4"/>
<path d="M482.8 177.3L486.4 183.4L479.2 183.4Z" fill="#dd0808" stroke="#700" stroke-width="0.4"/>
<path d="M485.9 177.7L489.5 183.8L482.3 183.8Z" fill="#dd0808" stroke="#700" stroke-width="0.4"/>
<rect x="472.7" y="82.7" width="5.0" height="5.0" fill="#a9e38e" stroke="#333" stroke-width="0.3"/>
<rect x="479.3" y="96.3" width="5.0" height="5.0" fill="#4466e2" stroke="#333" stroke-width="0.3"/>
<rect x="483.8" y="103.5" width="5.0" height="5.0" fill="#dd0808" stroke="#700" stroke-width="0.3"/>
<circle cx="532.5" cy="81.8" r="2.60" fill="#a9e38e" stroke="#333" stroke-width="0.4"/>
<circle cx="534.6" cy="65.3" r="2.60" fill="#e27443" stroke="#333" stroke-width="0.4"/>
<circle cx="530.1" cy="69.5" r="2.60" fill="#e27443" stroke="#333" stroke-width="0.4"/>
<circle cx="537.2" cy="70.0" r="2.60" fill="#e27443" stroke="#333" stroke-width="0.4"/>
<circle cx="536.5" cy="73.5" r="2.60" fill="#e27443" stroke="#333" stroke-width="0.4"/>
<circle cx="538.8" cy="75.9" r="2.60" fill="#e27443" stroke="#333" stroke-width="0.4"/>
<circle cx="535.3" cy="78.2" r="2.60" fill="#e27443" stroke="#333" stroke-width="0.4"/>
<circle cx="538.8" cy="79.4" r="2.60" fill="#e27443" stroke="#333" stroke-width="0.4"/>
<circle cx="536.5" cy="81.8" r="2.60" fill="#e27443" stroke="#333" stroke-width="0.4"/>
<circle cx="533.6" cy="84.1" r="2.60" fill="#e27443" stroke="#333" stroke-width="0.4"/>
<circle cx="537.6" cy="85.3" r="2.60" fill="#e27443" stroke="#333" stroke-width="0.4"/>
<circle cx="535.3" cy="87.6" r="2.60" fill="#e27443" stroke="#333" stroke-width="0.4"/>
<circle cx="534.1" cy="91.2" r="2.60" fill="#e27443" stroke="#333" stroke-width="0.4"/>
<circle cx="533.6" cy="94.7" r="2.60" fill="#e27443" stroke="#333" stroke-width="0.4"/>
<circle cx="535.5" cy="68.0" r="2.60" fill="#e27443" stroke="#333" stroke-width="0.4"/>
<circle cx="537.0" cy="77.0" r="2.60" fill="#e27443" stroke="#333" stroke-width="0.4"/>
<circle cx="538.4" cy="89.3" r="2.60" fill="#a9e38e" stroke="#333" stroke-width="0.4"/>
<circle cx="539.5" cy="93.5" r="2.60" fill="#a9e38e" stroke="#333" stroke-width="0.4"/>
<circle cx="537.6" cy="97.1" r="2.60" fill="#a9e38e" stroke="#333" stroke-width="0.4"/>
<circle cx="533.4" cy="99.4" r="2.60" fill="#a9e38e" stroke="#333" stroke-width="0.4"/>
<circle cx="536.5" cy="100.6" r="2.60" fill="#a9e38e" stroke="#333" stroke-width="0.4"/>
<circle cx="538.8" cy="99.4" r="2.60" fill="#a9e38e" stroke="#333" stroke-width="0.4"/>
<circle cx="537.2" cy="102.2" r="2.60" fill="#a9e38e" stroke="#333" stroke-width="0.4"/>
<circle cx="534.5" cy="96.0" r="2.60" fill="#a9e38e" stroke="#333" stroke-width="0.4"/>
<circle cx="529.9" cy="136.4" r="2.60" fill="#4466e2" stroke="#333" stroke-width="0.4"/>
<circle cx="528.2" cy="140.6" r="2.60" fill="#4466e2" stroke="#333" stroke-width="0.4"/>
<circle cx="531.8" cy="140.1" r="2.60" fill="#4466e2" stroke="#333" stroke-width="0.4"/>
<circle cx="525.9" cy="144.1" r="2.60" fill="#4466e2" stroke="#333" stroke-width="0.4"/>
<circle cx="530.1" cy="144.1" r="2.60" fill="#4466e2" stroke="#333" stroke-width="0.4"/>
<circle cx="533.6" cy="144.1" r="2.60" fill="#4466e2" stroke="#333" stroke-width="0.4"/>
<circle cx="529.4" cy="147.6" r="2.60" fill="#4466e2" stroke="#333" stroke-width="0.4"/>
<circle cx="532.9" cy="148.4" r="2.60" fill="#4466e2" stroke="#333" stroke-width="0.4"/>
<circle cx="534.8" cy="150.7" r="2.60" fill="#4466e2" stroke="#333" stroke-width="0.4"/>
<circle cx="531.8" cy="152.4" r="2.60" fill="#4466e2" stroke="#333" stroke-width="0.4"/>
<circle cx="533.6" cy="154.2" r="2.60" fill="#4466e2" stroke="#333" stroke-width="0.4"/>
<circle cx="527.5" cy="146.5" r="2.60" fill="#4466e2" stroke="#333" stroke-width="0.4"/>
<circle cx="530.6" cy="155.9" r="2.60" fill="#dd0808" stroke="#700" stroke-width="0.4"/>
<circle cx="529.4" cy="159.4" r="2.60" fill="#dd0808" stroke="#700" stroke-width="0.4"/>
<circle cx="532.9" cy="160.1" r="2.60" fill="#dd0808" stroke="#700" stroke-width="0.4"/>
<circle cx="527.1" cy="162.9" r="2.60" fill="#dd0808" stroke="#700" stroke-width="0.4"/>
<circle cx="530.6" cy="163.6" r="2.60" fill="#dd0808" stroke="#700" stroke-width="0.4"/>
<circle cx="533.6" cy="164.8" r="2.60" fill="#dd0808" stroke="#700" stroke-width="0.4"/>
<circle cx="525.4" cy="166.5" r="2.60" fill="#dd0808" stroke="#700" stroke-width="0.4"/>
<circle cx="528.9" cy="167.6" r="2.60" fill="#dd0808" stroke="#700" stroke-width="0.4"/>
<circle cx="532.5" cy="168.4" r="2.60" fill="#dd0808" stroke="#700" stroke-width="0.4"/>
<circle cx="526.4" cy="170.5" r="2.60" fill="#dd0808" stroke="#700" stroke-width="0.4"/>
<circle cx="529.9" cy="171.6" r="2.60" fill="#dd0808" stroke="#700" stroke-width="0.4"/>
<circle cx="534.8" cy="171.6" r="2.60" fill="#dd0808" stroke="#700" stroke-width="0.4"/>
<circle cx="527.8" cy="174.7" r="2.60" fill="#dd0808" stroke="#700" stroke-width="0.4"/>
<circle cx="531.3" cy="175.2" r="2.60" fill="#dd0808" stroke="#700" stroke-width="0.4"/>
<circle cx="534.1" cy="174.7" r="2.60" fill="#dd0808" stroke="#700" stroke-width="0.4"/>
<circle cx="528.7" cy="178.7" r="2.60" fill="#dd0808" stroke="#700" stroke-width="0.4"/>
<circle cx="525.9" cy="181.1" r="2.60" fill="#dd0808" stroke="#700" stroke-width="0.4"/>
<circle cx="529.9" cy="181.8" r="2.60" fill="#dd0808" stroke="#700" stroke-width="0.4"/>
<circle cx="527.8" cy="184.6" r="2.60" fill="#dd0808" stroke="#700" stroke-width="0.4"/>
<circle cx="531.3" cy="192.8" r="2.60" fill="#dd0808" stroke="#700" stroke-width="0.4"/>
<circle cx="532.0" cy="179.0" r="2.60" fill="#dd0808" stroke="#700" stroke-width="0.4"/>
<circle cx="535.5" cy="168.0" r="2.60" fill="#dd0808" stroke="#700" stroke-width="0.4"/>
<text class="pl" transform="translate(0.0 337.4) scale(0.96 1)">c</text>
<path d="M1.4 366C1.5 351 8 342.7 30 342.6L647 343.8C672 344 683.3 352 683.8 371L683.6 656C683.3 670 675 677.5 655 677.8L30.7 677.8C9 677.6 2.2 668 1.8 651.5Z" fill="url(#bg)" stroke="#3f6e9f" stroke-width="1.5"/>
<circle cx="23.3" cy="366.4" r="6.1" fill="url(#lY)"/>
<text x="36.8" y="371.6" class="cl" text-anchor="start">Morula</text>
<circle cx="23.3" cy="387.2" r="6.1" fill="url(#lB)"/>
<text x="36.8" y="391.6" class="cl" text-anchor="start">ICM</text>
<ellipse cx="24.2" cy="406.3" rx="6.4" ry="3.3" fill="#b0b0b0" opacity="0.5" transform="rotate(-8 24.2 406.3)"/>
<ellipse cx="23.6" cy="407.1" rx="6.3" ry="3.2" fill="url(#sT)" transform="rotate(-8 23.6 407.1)"/>
<text x="36.8" y="411.9" class="cl" text-anchor="start">TE</text>
<circle cx="23.3" cy="427.8" r="6.1" fill="url(#lG)"/>
<text x="36.8" y="431.9" class="cl" text-anchor="start">Early EPI</text>
<circle cx="23.3" cy="449.1" r="6.1" fill="url(#lO)"/>
<text x="36.8" y="452.9" class="cl" text-anchor="start">Late EPI</text>
<ellipse cx="25.2" cy="470.3" rx="5.4" ry="3.3" fill="#9a9a9a" opacity="0.55" transform="rotate(-22 25.2 470.3)"/>
<ellipse cx="24.0" cy="471.3" rx="5.3" ry="3.3" fill="url(#sP)" transform="rotate(-22 24 471.3)"/>
<text x="36.8" y="473.1" class="cl" text-anchor="start">HYPO</text>
<rect x="159.3" y="352.8" width="214.0" height="15.5" rx="3" ry="3" fill="url(#bluebox)" stroke="#6c9fdc" stroke-width="1.1"/>
<text x="266.5" y="366.2" class="bx" text-anchor="middle">Jak-STAT</text>
<rect x="375.4" y="352.8" width="282.4" height="15.5" rx="3" ry="3" fill="url(#orgbox)" stroke="#ef8f55" stroke-width="1.1"/>
<text x="511.8" y="365.6" class="bx" text-anchor="middle">TGFβ</text>
<rect x="159.3" y="374.1" width="129.3" height="15.2" rx="3" ry="3" fill="url(#bluebox)" stroke="#6c9fdc" stroke-width="1.1"/>
<text x="224.9" y="387.3" class="bx" text-anchor="middle">IL-6</text>
<rect x="238.4" y="395.8" width="134.9" height="15.2" rx="3" ry="3" fill="url(#bluebox)" stroke="#6c9fdc" stroke-width="1.1"/>
<text x="305.7" y="408.5" class="bx" text-anchor="middle">PI3K-Akt</text>
<rect x="160.2" y="430.4" width="157.1" height="12.4" rx="2.5" ry="2.5" fill="#fff" stroke="#5b9bd5" stroke-width="1.2"/>
<text x="238.7" y="441.2" class="gi" text-anchor="middle">KLF4/TFCP2L1</text>
<rect x="160.2" y="447.2" width="206.1" height="13.6" rx="2.5" ry="2.5" fill="#fff" stroke="#5b9bd5" stroke-width="1.2"/>
<text x="263.5" y="458.5" class="gi" text-anchor="middle">KLF5/ESRRB/TBX3</text>
<rect x="160.2" y="464.5" width="350.3" height="13.5" rx="2.5" ry="2.5" fill="#fff" stroke="#5b9bd5" stroke-width="1.2"/>
<text x="336.4" y="475.6" class="gi" text-anchor="middle">KLF17</text>
<rect x="295.0" y="481.3" width="361.5" height="12.6" rx="2.5" ry="2.5" fill="#fff" stroke="#70ad47" stroke-width="1.2"/>
<text x="475.1" y="492.2" class="gi" text-anchor="middle">NANOG</text>
<rect x="405.5" y="497.3" width="251.0" height="12.0" rx="2.5" ry="2.5" fill="#fff" stroke="#ed7d31" stroke-width="1.2"/>
<text x="529.5" y="507.9" class="gi" text-anchor="middle">PRDM14</text>
<rect x="469.4" y="512.6" width="187.1" height="12.4" rx="2.5" ry="2.5" fill="#fff" stroke="#ed7d31" stroke-width="1.2"/>
<text x="563.8" y="523.4" class="gi" text-anchor="middle">NODAL</text>
<path d="M165.8 530.4L378.4 530.4L431.8 556.2L165.8 556.2Z" fill="#cc66ff" stroke="#8a8a8a" stroke-width="1"/>
<path d="M387.6 529.6L656.6 529.6L656.6 555.2L441.4 555.2Z" fill="#ff6699" stroke="#8a8a8a" stroke-width="1"/>
<text x="181.5" y="548.8" font-size="13.3" fill="#fff">OXPHOS</text>
<text x="614" y="547" font-size="13.4" fill="#fff" text-anchor="middle">Glycolysis</text>
<path d="M165.8 521.7C179.8 521.7 231.0 521.8 250.0 521.7C269.0 521.6 270.2 521.6 280.0 521.2C289.8 520.8 299.3 520.6 309.0 519.5C318.7 518.4 328.2 516.8 338.0 514.5C347.8 512.2 358.2 509.4 368.0 505.8C377.8 502.2 389.8 496.5 397.0 492.6C404.2 488.7 406.2 486.1 411.0 482.4C415.8 478.7 421.0 474.5 426.0 470.5C431.0 466.5 435.8 463.4 441.0 458.3C446.2 453.2 451.7 446.1 457.0 440.2C462.3 434.3 467.2 428.5 473.0 423.2C478.8 417.9 486.2 412.2 492.0 408.4C497.8 404.6 502.7 402.6 508.0 400.2C513.3 397.8 518.7 395.9 524.0 394.2C529.3 392.5 534.7 391.4 540.0 390.2C545.3 389.0 548.0 388.4 556.0 386.9C564.0 385.4 577.3 382.6 588.0 381.0C598.7 379.4 608.9 378.3 620.0 377.2C631.1 376.1 648.8 374.6 654.5 374.1" fill="none" stroke="#7030a0" stroke-width="6.3"/>
<text x="596.5" y="399.6" class="dn" text-anchor="start">DNA</text>
<text x="596.5" y="413.4" class="dn" text-anchor="start">methylation</text>
<path d="M13.4 574.4L18.4 576.9C20.3 578 21.8 580 23.2 582" fill="none" stroke="#000" stroke-width="2.3" stroke-linecap="round"/>
<path d="M19.6 577.4C20 574.4 22.2 572.0 24.6 571.9C26.8 572.3 26.4 576 24.8 579L23.4 582" fill="none" stroke="#000" stroke-width="2.8" stroke-linecap="round"/>
<path transform="translate(0 560) scale(0.20437)" d="M122 100 C150 75 200 62 300 58 C350 57 400 60 430 68 C470 80 520 108 555 120 L579 91 L586 117 L613.5 98 L594 140 C596 158 602 170 606 176 C612 186 618 191 624 195 C634 201 642 205 649 209 C653 213 653 217 651 221 C650 230 646 237 638 240 C625 243 608 242 593 241.6 C575 240 560 238 543 238 C520 238 500 238 482 238 C476 240 472 244 470 248 C466 262 464 276 464.6 291 C464.6 302 465 313 467 324 L473.5 334 L465 341 C470 347 474 353 474.7 359 C473 365 465 367 457 366.7 C446 364 434 359 427 351.6 C425 342 430 333 429.3 324 C427 305 422 288 416.7 271 C412 260 407 251 401.6 243 C385 240 372 243 360 246 C340 254 320 260 300 259 C280 257 262 250 240 246 C220 243 205 250 200 262 C194 275 194 292 198 305 C204 316 214 326 206 333 C196 338 184 334 176 330 C180 340 186 356 176 364 C160 368 145 362 136 355 C128 345 132 320 128 300 C126 290 122 282 120 272 C112 245 104 215 100 185 C96 150 100 120 122 100 Z" fill="#000" fill-rule="evenodd"/>
<circle cx="191.0" cy="601.2" r="27.3" fill="#fff" stroke="#111" stroke-width="1.5"/>
<circle cx="184.8" cy="595.0" r="5.9" fill="url(#sY)"/>
<circle cx="179.7" cy="615.1" r="5.9" fill="url(#sY)"/>
<circle cx="205.4" cy="610.5" r="5.9" fill="url(#sY)"/>
<circle cx="204.4" cy="588.8" r="5.9" fill="url(#sY)"/>
<circle cx="173.0" cy="600.7" r="5.9" fill="url(#sY)"/>
<circle cx="184.3" cy="584.7" r="5.9" fill="url(#sY)"/>
<circle cx="193.1" cy="584.7" r="5.9" fill="url(#sY)"/>
<circle cx="176.1" cy="589.9" r="5.9" fill="url(#sY)"/>
<circle cx="208.0" cy="599.7" r="5.9" fill="url(#sY)"/>
<circle cx="184.8" cy="607.4" r="5.9" fill="url(#sY)"/>
<circle cx="191.0" cy="599.1" r="5.9" fill="url(#sY)"/>
<circle cx="197.7" cy="594.5" r="5.9" fill="url(#sY)"/>
<circle cx="175.5" cy="608.4" r="5.9" fill="url(#sY)"/>
<circle cx="197.7" cy="607.4" r="5.9" fill="url(#sY)"/>
<circle cx="186.4" cy="616.7" r="5.9" fill="url(#sY)"/>
<circle cx="194.6" cy="616.7" r="5.9" fill="url(#sY)"/>
<circle cx="320.3" cy="599.5" r="26.9" fill="#fff" stroke="#111" stroke-width="1.5"/>
<circle cx="307.8" cy="587.5" r="3.3" fill="url(#sB)"/>
<circle cx="312.8" cy="584.0" r="3.3" fill="url(#sB)"/>
<circle cx="317.8" cy="582.0" r="3.3" fill="url(#sB)"/>
<circle cx="322.8" cy="582.0" r="3.3" fill="url(#sB)"/>
<circle cx="327.8" cy="583.5" r="3.3" fill="url(#sB)"/>
<circle cx="332.3" cy="586.5" r="3.3" fill="url(#sB)"/>
<circle cx="310.8" cy="589.0" r="3.3" fill="url(#sB)"/>
<circle cx="315.8" cy="587.5" r="3.3" fill="url(#sB)"/>
<circle cx="320.8" cy="587.0" r="3.3" fill="url(#sB)"/>
<circle cx="325.8" cy="587.5" r="3.3" fill="url(#sB)"/>
<circle cx="330.8" cy="589.5" r="3.3" fill="url(#sB)"/>
<circle cx="335.3" cy="590.0" r="3.3" fill="url(#sB)"/>
<circle cx="306.3" cy="590.5" r="3.3" fill="url(#sB)"/>
<circle cx="319.8" cy="590.0" r="3.3" fill="url(#sB)"/>
<circle cx="325.3" cy="590.5" r="3.3" fill="url(#sB)"/>
<circle cx="314.8" cy="590.5" r="3.3" fill="url(#sB)"/>
<circle cx="331.3" cy="591.0" r="3.3" fill="url(#sB)"/>
<ellipse cx="343.8" cy="601.9" rx="4.5" ry="2.6" fill="url(#sT)" transform="rotate(95.7 343.8 601.9)"/>
<ellipse cx="341.3" cy="610.2" rx="4.5" ry="2.6" fill="url(#sT)" transform="rotate(116.9 341.3 610.2)"/>
<ellipse cx="336.1" cy="617.1" rx="4.5" ry="2.6" fill="url(#sT)" transform="rotate(138.1 336.1 617.1)"/>
<ellipse cx="328.7" cy="621.6" rx="4.5" ry="2.6" fill="url(#sT)" transform="rotate(159.3 328.7 621.6)"/>
<ellipse cx="320.1" cy="623.1" rx="4.5" ry="2.6" fill="url(#sT)" transform="rotate(-179.6 320.1 623.1)"/>
<ellipse cx="311.6" cy="621.4" rx="4.5" ry="2.6" fill="url(#sT)" transform="rotate(-158.4 311.6 621.4)"/>
<ellipse cx="304.3" cy="616.8" rx="4.5" ry="2.6" fill="url(#sT)" transform="rotate(-137.2 304.3 616.8)"/>
<ellipse cx="299.1" cy="609.9" rx="4.5" ry="2.6" fill="url(#sT)" transform="rotate(-116.0 299.1 609.9)"/>
<ellipse cx="296.8" cy="601.5" rx="4.5" ry="2.6" fill="url(#sT)" transform="rotate(-94.9 296.8 601.5)"/>
<ellipse cx="297.7" cy="592.9" rx="4.5" ry="2.6" fill="url(#sT)" transform="rotate(-73.7 297.7 592.9)"/>
<ellipse cx="301.6" cy="585.1" rx="4.5" ry="2.6" fill="url(#sT)" transform="rotate(-52.5 301.6 585.1)"/>
<ellipse cx="308.0" cy="579.3" rx="4.5" ry="2.6" fill="url(#sT)" transform="rotate(-31.3 308.0 579.3)"/>
<ellipse cx="316.1" cy="576.3" rx="4.5" ry="2.6" fill="url(#sT)" transform="rotate(-10.2 316.1 576.3)"/>
<ellipse cx="324.8" cy="576.3" rx="4.5" ry="2.6" fill="url(#sT)" transform="rotate(11.0 324.8 576.3)"/>
<ellipse cx="332.9" cy="579.5" rx="4.5" ry="2.6" fill="url(#sT)" transform="rotate(32.2 332.9 579.5)"/>
<ellipse cx="339.2" cy="585.4" rx="4.5" ry="2.6" fill="url(#sT)" transform="rotate(53.4 339.2 585.4)"/>
<ellipse cx="343.0" cy="593.2" rx="4.5" ry="2.6" fill="url(#sT)" transform="rotate(74.6 343.0 593.2)"/>
<circle cx="462.9" cy="601.2" r="35.5" fill="#8a7a70" opacity="0.18"/>
<circle cx="462.9" cy="601.2" r="33" fill="#fff"/>
<ellipse cx="495.4" cy="603.8" rx="6.9" ry="3.5" fill="url(#sT)" transform="rotate(94.6 495.4 603.8)"/>
<ellipse cx="492.5" cy="614.6" rx="6.9" ry="3.5" fill="url(#sT)" transform="rotate(114.8 492.5 614.6)"/>
<ellipse cx="486.1" cy="623.9" rx="6.9" ry="3.5" fill="url(#sT)" transform="rotate(134.8 486.1 623.9)"/>
<ellipse cx="476.9" cy="630.4" rx="6.9" ry="3.5" fill="url(#sT)" transform="rotate(154.8 476.9 630.4)"/>
<ellipse cx="466.0" cy="633.4" rx="6.9" ry="3.5" fill="url(#sT)" transform="rotate(174.6 466.0 633.4)"/>
<ellipse cx="454.7" cy="632.5" rx="6.9" ry="3.5" fill="url(#sT)" transform="rotate(-165.5 454.7 632.5)"/>
<ellipse cx="444.4" cy="627.8" rx="6.9" ry="3.5" fill="url(#sT)" transform="rotate(-145.7 444.4 627.8)"/>
<ellipse cx="436.3" cy="619.9" rx="6.9" ry="3.5" fill="url(#sT)" transform="rotate(-125.7 436.3 619.9)"/>
<ellipse cx="431.5" cy="609.8" rx="6.9" ry="3.5" fill="url(#sT)" transform="rotate(-105.6 431.5 609.8)"/>
<ellipse cx="430.4" cy="598.6" rx="6.9" ry="3.5" fill="url(#sT)" transform="rotate(-85.4 430.4 598.6)"/>
<ellipse cx="433.3" cy="587.8" rx="6.9" ry="3.5" fill="url(#sT)" transform="rotate(-65.2 433.3 587.8)"/>
<ellipse cx="439.7" cy="578.5" rx="6.9" ry="3.5" fill="url(#sT)" transform="rotate(-45.2 439.7 578.5)"/>
<ellipse cx="448.9" cy="572.0" rx="6.9" ry="3.5" fill="url(#sT)" transform="rotate(-25.2 448.9 572.0)"/>
<ellipse cx="459.8" cy="569.0" rx="6.9" ry="3.5" fill="url(#sT)" transform="rotate(-5.4 459.8 569.0)"/>
<ellipse cx="471.1" cy="569.9" rx="6.9" ry="3.5" fill="url(#sT)" transform="rotate(14.5 471.1 569.9)"/>
<ellipse cx="481.4" cy="574.6" rx="6.9" ry="3.5" fill="url(#sT)" transform="rotate(34.3 481.4 574.6)"/>
<ellipse cx="489.5" cy="582.5" rx="6.9" ry="3.5" fill="url(#sT)" transform="rotate(54.3 489.5 582.5)"/>
<ellipse cx="494.3" cy="592.6" rx="6.9" ry="3.5" fill="url(#sT)" transform="rotate(74.4 494.3 592.6)"/>
<ellipse cx="440.1" cy="590.8" rx="5.6" ry="3.4" fill="url(#sP)" transform="rotate(35.0 440.1 590.8)"/>
<ellipse cx="449.4" cy="593.3" rx="5.6" ry="3.4" fill="url(#sP)" transform="rotate(14.0 449.4 593.3)"/>
<ellipse cx="458.2" cy="596.2" rx="5.6" ry="3.4" fill="url(#sP)" transform="rotate(5.0 458.2 596.2)"/>
<ellipse cx="467.6" cy="596.2" rx="5.6" ry="3.4" fill="url(#sP)" transform="rotate(-5.0 467.6 596.2)"/>
<ellipse cx="477.4" cy="596.6" rx="5.6" ry="3.4" fill="url(#sP)" transform="rotate(-14.0 477.4 596.6)"/>
<ellipse cx="486.4" cy="592.4" rx="5.6" ry="3.4" fill="url(#sP)" transform="rotate(-35.0 486.4 592.4)"/>
<circle cx="454.9" cy="572.2" r="4.0" fill="url(#sG)"/>
<circle cx="462.9" cy="571.7" r="4.0" fill="url(#sG)"/>
<circle cx="470.9" cy="572.7" r="4.0" fill="url(#sG)"/>
<circle cx="447.9" cy="575.2" r="4.0" fill="url(#sG)"/>
<circle cx="458.9" cy="575.7" r="4.0" fill="url(#sG)"/>
<circle cx="467.9" cy="576.2" r="4.0" fill="url(#sG)"/>
<circle cx="476.9" cy="575.7" r="4.0" fill="url(#sG)"/>
<circle cx="482.9" cy="578.7" r="4.0" fill="url(#sG)"/>
<circle cx="442.4" cy="579.7" r="4.0" fill="url(#sG)"/>
<circle cx="452.9" cy="579.2" r="4.0" fill="url(#sG)"/>
<circle cx="461.9" cy="579.2" r="4.0" fill="url(#sG)"/>
<circle cx="470.9" cy="580.2" r="4.0" fill="url(#sG)"/>
<circle cx="478.9" cy="581.2" r="4.0" fill="url(#sG)"/>
<circle cx="485.9" cy="583.7" r="4.0" fill="url(#sG)"/>
<circle cx="445.9" cy="583.2" r="4.0" fill="url(#sG)"/>
<circle cx="455.4" cy="582.7" r="4.0" fill="url(#sG)"/>
<circle cx="464.4" cy="583.2" r="4.0" fill="url(#sG)"/>
<circle cx="473.4" cy="584.2" r="4.0" fill="url(#sG)"/>
<circle cx="481.9" cy="586.7" r="4.0" fill="url(#sG)"/>
<circle cx="450.4" cy="586.7" r="4.0" fill="url(#sG)"/>
<circle cx="459.4" cy="586.7" r="4.0" fill="url(#sG)"/>
<circle cx="467.9" cy="587.2" r="4.0" fill="url(#sG)"/>
<circle cx="476.4" cy="588.7" r="4.0" fill="url(#sG)"/>
<circle cx="454.9" cy="589.7" r="4.0" fill="url(#sG)"/>
<circle cx="463.4" cy="590.2" r="4.0" fill="url(#sG)"/>
<circle cx="471.4" cy="590.7" r="4.0" fill="url(#sG)"/>
<circle cx="441.4" cy="584.7" r="4.0" fill="url(#sG)"/>
<circle cx="447.9" cy="588.2" r="4.0" fill="url(#sG)"/>
<ellipse cx="616.8" cy="603.1" rx="39" ry="36.5" fill="#8a6a50" opacity="0.16"/>
<path d="M590.8 577.0 L643.8 578.0 A 36.6 34.6 0 1 1 590.8 577.0 Z" fill="#fff"/>
<ellipse cx="616.8" cy="603.6" rx="36" ry="33" fill="#fff"/>
<ellipse cx="644.9" cy="580.7" rx="6.7" ry="2.9" fill="url(#sT)" transform="rotate(48.2 644.9 580.7)"/>
<ellipse cx="650.4" cy="589.0" rx="6.7" ry="2.9" fill="url(#sT)" transform="rotate(65.0 650.4 589.0)"/>
<ellipse cx="653.2" cy="598.5" rx="6.7" ry="2.9" fill="url(#sT)" transform="rotate(82.3 653.2 598.5)"/>
<ellipse cx="653.0" cy="608.3" rx="6.7" ry="2.9" fill="url(#sT)" transform="rotate(99.7 653.0 608.3)"/>
<ellipse cx="649.9" cy="617.6" rx="6.7" ry="2.9" fill="url(#sT)" transform="rotate(117.0 649.9 617.6)"/>
<ellipse cx="644.1" cy="625.8" rx="6.7" ry="2.9" fill="url(#sT)" transform="rotate(133.7 644.1 625.8)"/>
<ellipse cx="636.1" cy="632.1" rx="6.7" ry="2.9" fill="url(#sT)" transform="rotate(149.9 636.1 632.1)"/>
<ellipse cx="626.5" cy="636.0" rx="6.7" ry="2.9" fill="url(#sT)" transform="rotate(165.5 626.5 636.0)"/>
<ellipse cx="616.2" cy="637.2" rx="6.7" ry="2.9" fill="url(#sT)" transform="rotate(-179.1 616.2 637.2)"/>
<ellipse cx="605.8" cy="635.6" rx="6.7" ry="2.9" fill="url(#sT)" transform="rotate(-163.7 605.8 635.6)"/>
<ellipse cx="596.4" cy="631.4" rx="6.7" ry="2.9" fill="url(#sT)" transform="rotate(-147.9 596.4 631.4)"/>
<ellipse cx="588.6" cy="624.9" rx="6.7" ry="2.9" fill="url(#sT)" transform="rotate(-131.7 588.6 624.9)"/>
<ellipse cx="583.1" cy="616.5" rx="6.7" ry="2.9" fill="url(#sT)" transform="rotate(-114.9 583.1 616.5)"/>
<ellipse cx="580.4" cy="607.1" rx="6.7" ry="2.9" fill="url(#sT)" transform="rotate(-97.6 580.4 607.1)"/>
<ellipse cx="580.6" cy="597.3" rx="6.7" ry="2.9" fill="url(#sT)" transform="rotate(-80.1 580.6 597.3)"/>
<ellipse cx="583.7" cy="587.9" rx="6.7" ry="2.9" fill="url(#sT)" transform="rotate(-62.9 583.7 587.9)"/>
<ellipse cx="589.5" cy="579.8" rx="6.7" ry="2.9" fill="url(#sT)" transform="rotate(-46.2 589.5 579.8)"/>
<ellipse cx="595.3" cy="569.4" rx="2.8" ry="6.3" fill="url(#sO)"/>
<ellipse cx="600.3" cy="569.4" rx="2.8" ry="6.9" fill="url(#sO)"/>
<ellipse cx="605.3" cy="569.4" rx="2.8" ry="7.1" fill="url(#sO)"/>
<ellipse cx="607.8" cy="570.0" rx="2.8" ry="6.9" fill="url(#sO)"/>
<ellipse cx="611.6" cy="570.4" rx="2.8" ry="6.9" fill="url(#sO)"/>
<ellipse cx="615.9" cy="570.6" rx="2.8" ry="6.9" fill="url(#sO)"/>
<ellipse cx="620.3" cy="570.6" rx="2.8" ry="7.1" fill="url(#sO)"/>
<ellipse cx="624.7" cy="572.1" rx="2.8" ry="6.1" fill="url(#sO)"/>
<ellipse cx="629.7" cy="570.1" rx="2.8" ry="7.4" fill="url(#sO)"/>
<ellipse cx="632.8" cy="572.8" rx="2.8" ry="6.3" fill="url(#sO)"/>
<ellipse cx="637.2" cy="571.7" rx="2.8" ry="7.7" fill="url(#sO)"/>
<ellipse cx="641.6" cy="574.4" rx="2.8" ry="6.3" fill="url(#sO)"/>
<ellipse cx="598.4" cy="578.2" rx="5.5" ry="3.0" fill="url(#sP)" transform="rotate(-6.0 598.4 578.2)"/>
<ellipse cx="606.5" cy="578.6" rx="5.5" ry="3.0" fill="url(#sP)" transform="rotate(8.0 606.5 578.6)"/>
<ellipse cx="615.3" cy="579.4" rx="5.5" ry="3.0" fill="url(#sP)" transform="rotate(4.0 615.3 579.4)"/>
<ellipse cx="624.1" cy="579.1" rx="5.5" ry="3.0" fill="url(#sP)" transform="rotate(-3.0 624.1 579.1)"/>
<ellipse cx="632.8" cy="580.1" rx="5.5" ry="3.0" fill="url(#sP)" transform="rotate(12.0 632.8 580.1)"/>
<ellipse cx="639.7" cy="581.9" rx="5.5" ry="3.0" fill="url(#sP)" transform="rotate(16.0 639.7 581.9)"/>
<path d="M595.9 602.0L602.4 588.3L630.3 588.3L637 602.0L630.3 615.7L602.4 615.7Z" fill="#84da5e" stroke="#3f7f2c" stroke-width="1"/>
<text x="616.6" y="606.4" font-size="13" fill="#000" stroke="#000" stroke-width="0.15" text-anchor="middle">XCI</text>
<text x="190.0" y="653.2" class="cl" text-anchor="middle">E4–5</text>
<text x="318.5" y="653.2" class="cl" text-anchor="middle">E5–6</text>
<text x="461.6" y="653.2" class="cl" text-anchor="middle">E7–8</text>
<text x="616.4" y="653.2" class="cl" text-anchor="middle">E10–11</text>
<text x="250.7" y="670.2" font-size="13" font-style="italic" fill="#3d79c6" text-anchor="middle" text-decoration="underline">Naïve</text>
<text x="540.2" y="670.2" font-size="13" font-style="italic" fill="#e08a2e" text-anchor="middle" text-decoration="underline">Primed</text>
</svg>
</body></html>
